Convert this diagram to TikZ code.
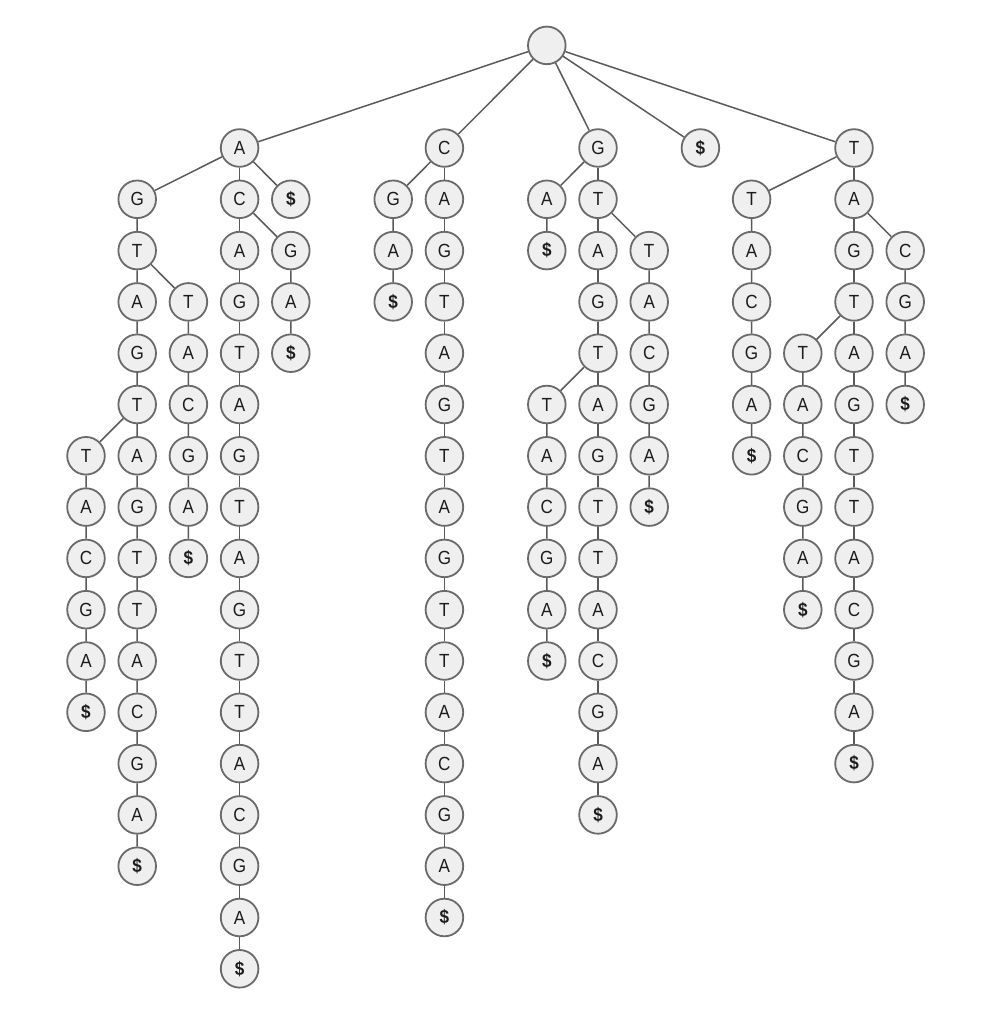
\documentclass[tikz,border=0pt]{standalone}
\usepackage{fontspec}
\newfontfamily\triefont{Liberation Sans}[FakeStretch=0.9]
\definecolor{nodefill}{HTML}{EFEFEF}
\definecolor{nodeline}{HTML}{6A6A6A}
\definecolor{edgeline}{HTML}{5A5A5A}
\definecolor{nodetext}{HTML}{1C1C1C}
\tikzset{
  trie/.style={circle, draw=nodeline, fill=nodefill, line width=1.8pt,
    minimum size=37.6pt, inner sep=0pt, text=nodetext,
    font=\triefont\fontsize{19}{19}\selectfont},
  edge/.style={draw=edgeline, line width=1.5pt}
}
\newcommand{\trieend}{{\bfseries\$}}
\begin{document}
\begin{tikzpicture}[x=51.2pt, y=-51.3pt]
\useasboundingbox (-86pt,45.4pt) rectangle (896pt,-978.6pt);
% root and first letters
\node[trie] (root) at (9,0) {};
\node[trie] (c3r2) at (3,2) {A};
\node[trie] (c7r2) at (7,2) {C};
\node[trie] (c10r2) at (10,2) {G};
\node[trie] (c12r2) at (12,2) {\trieend};
\node[trie] (c15r2) at (15,2) {T};
% branch A
\node[trie] (c1r3) at (1,3) {G};
\node[trie] (c1r4) at (1,4) {T};
\node[trie] (c1r5) at (1,5) {A};
\node[trie] (c1r6) at (1,6) {G};
\node[trie] (c1r7) at (1,7) {T};
\node[trie] (c1r8) at (1,8) {A};
\node[trie] (c1r9) at (1,9) {G};
\node[trie] (c1r10) at (1,10) {T};
\node[trie] (c1r11) at (1,11) {T};
\node[trie] (c1r12) at (1,12) {A};
\node[trie] (c1r13) at (1,13) {C};
\node[trie] (c1r14) at (1,14) {G};
\node[trie] (c1r15) at (1,15) {A};
\node[trie] (c1r16) at (1,16) {\trieend};
\node[trie] (c0r8) at (0,8) {T};
\node[trie] (c0r9) at (0,9) {A};
\node[trie] (c0r10) at (0,10) {C};
\node[trie] (c0r11) at (0,11) {G};
\node[trie] (c0r12) at (0,12) {A};
\node[trie] (c0r13) at (0,13) {\trieend};
\node[trie] (c2r5) at (2,5) {T};
\node[trie] (c2r6) at (2,6) {A};
\node[trie] (c2r7) at (2,7) {C};
\node[trie] (c2r8) at (2,8) {G};
\node[trie] (c2r9) at (2,9) {A};
\node[trie] (c2r10) at (2,10) {\trieend};
\node[trie] (c3r3) at (3,3) {C};
\node[trie] (c3r4) at (3,4) {A};
\node[trie] (c3r5) at (3,5) {G};
\node[trie] (c3r6) at (3,6) {T};
\node[trie] (c3r7) at (3,7) {A};
\node[trie] (c3r8) at (3,8) {G};
\node[trie] (c3r9) at (3,9) {T};
\node[trie] (c3r10) at (3,10) {A};
\node[trie] (c3r11) at (3,11) {G};
\node[trie] (c3r12) at (3,12) {T};
\node[trie] (c3r13) at (3,13) {T};
\node[trie] (c3r14) at (3,14) {A};
\node[trie] (c3r15) at (3,15) {C};
\node[trie] (c3r16) at (3,16) {G};
\node[trie] (c3r17) at (3,17) {A};
\node[trie] (c3r18) at (3,18) {\trieend};
\node[trie] (c4r3) at (4,3) {\trieend};
\node[trie] (c4r4) at (4,4) {G};
\node[trie] (c4r5) at (4,5) {A};
\node[trie] (c4r6) at (4,6) {\trieend};
% branch C
\node[trie] (c6r3) at (6,3) {G};
\node[trie] (c6r4) at (6,4) {A};
\node[trie] (c6r5) at (6,5) {\trieend};
\node[trie] (c7r3) at (7,3) {A};
\node[trie] (c7r4) at (7,4) {G};
\node[trie] (c7r5) at (7,5) {T};
\node[trie] (c7r6) at (7,6) {A};
\node[trie] (c7r7) at (7,7) {G};
\node[trie] (c7r8) at (7,8) {T};
\node[trie] (c7r9) at (7,9) {A};
\node[trie] (c7r10) at (7,10) {G};
\node[trie] (c7r11) at (7,11) {T};
\node[trie] (c7r12) at (7,12) {T};
\node[trie] (c7r13) at (7,13) {A};
\node[trie] (c7r14) at (7,14) {C};
\node[trie] (c7r15) at (7,15) {G};
\node[trie] (c7r16) at (7,16) {A};
\node[trie] (c7r17) at (7,17) {\trieend};
% branch G
\node[trie] (c9r3) at (9,3) {A};
\node[trie] (c9r4) at (9,4) {\trieend};
\node[trie] (c10r3) at (10,3) {T};
\node[trie] (c10r4) at (10,4) {A};
\node[trie] (c10r5) at (10,5) {G};
\node[trie] (c10r6) at (10,6) {T};
\node[trie] (c10r7) at (10,7) {A};
\node[trie] (c10r8) at (10,8) {G};
\node[trie] (c10r9) at (10,9) {T};
\node[trie] (c10r10) at (10,10) {T};
\node[trie] (c10r11) at (10,11) {A};
\node[trie] (c10r12) at (10,12) {C};
\node[trie] (c10r13) at (10,13) {G};
\node[trie] (c10r14) at (10,14) {A};
\node[trie] (c10r15) at (10,15) {\trieend};
\node[trie] (c11r4) at (11,4) {T};
\node[trie] (c11r5) at (11,5) {A};
\node[trie] (c11r6) at (11,6) {C};
\node[trie] (c11r7) at (11,7) {G};
\node[trie] (c11r8) at (11,8) {A};
\node[trie] (c11r9) at (11,9) {\trieend};
\node[trie] (c9r7) at (9,7) {T};
\node[trie] (c9r8) at (9,8) {A};
\node[trie] (c9r9) at (9,9) {C};
\node[trie] (c9r10) at (9,10) {G};
\node[trie] (c9r11) at (9,11) {A};
\node[trie] (c9r12) at (9,12) {\trieend};
% branch T
\node[trie] (c13r3) at (13,3) {T};
\node[trie] (c13r4) at (13,4) {A};
\node[trie] (c13r5) at (13,5) {C};
\node[trie] (c13r6) at (13,6) {G};
\node[trie] (c13r7) at (13,7) {A};
\node[trie] (c13r8) at (13,8) {\trieend};
\node[trie] (c15r3) at (15,3) {A};
\node[trie] (c15r4) at (15,4) {G};
\node[trie] (c15r5) at (15,5) {T};
\node[trie] (c15r6) at (15,6) {A};
\node[trie] (c15r7) at (15,7) {G};
\node[trie] (c15r8) at (15,8) {T};
\node[trie] (c15r9) at (15,9) {T};
\node[trie] (c15r10) at (15,10) {A};
\node[trie] (c15r11) at (15,11) {C};
\node[trie] (c15r12) at (15,12) {G};
\node[trie] (c15r13) at (15,13) {A};
\node[trie] (c15r14) at (15,14) {\trieend};
\node[trie] (c16r4) at (16,4) {C};
\node[trie] (c16r5) at (16,5) {G};
\node[trie] (c16r6) at (16,6) {A};
\node[trie] (c16r7) at (16,7) {\trieend};
\node[trie] (c14r6) at (14,6) {T};
\node[trie] (c14r7) at (14,7) {A};
\node[trie] (c14r8) at (14,8) {C};
\node[trie] (c14r9) at (14,9) {G};
\node[trie] (c14r10) at (14,10) {A};
\node[trie] (c14r11) at (14,11) {\trieend};
% edges
\draw[edge] (root) -- (c3r2);
\draw[edge] (root) -- (c7r2);
\draw[edge] (root) -- (c10r2);
\draw[edge] (root) -- (c12r2);
\draw[edge] (root) -- (c15r2);
\draw[edge] (c3r2) -- (c1r3) -- (c1r4) -- (c1r5) -- (c1r6) -- (c1r7) -- (c1r8) -- (c1r9) -- (c1r10) -- (c1r11) -- (c1r12) -- (c1r13) -- (c1r14) -- (c1r15) -- (c1r16);
\draw[edge] (c1r4) -- (c2r5) -- (c2r6) -- (c2r7) -- (c2r8) -- (c2r9) -- (c2r10);
\draw[edge] (c1r7) -- (c0r8) -- (c0r9) -- (c0r10) -- (c0r11) -- (c0r12) -- (c0r13);
\draw[edge] (c3r2) -- (c3r3) -- (c3r4) -- (c3r5) -- (c3r6) -- (c3r7) -- (c3r8) -- (c3r9) -- (c3r10) -- (c3r11) -- (c3r12) -- (c3r13) -- (c3r14) -- (c3r15) -- (c3r16) -- (c3r17) -- (c3r18);
\draw[edge] (c3r2) -- (c4r3);
\draw[edge] (c3r3) -- (c4r4) -- (c4r5) -- (c4r6);
\draw[edge] (c7r2) -- (c6r3) -- (c6r4) -- (c6r5);
\draw[edge] (c7r2) -- (c7r3) -- (c7r4) -- (c7r5) -- (c7r6) -- (c7r7) -- (c7r8) -- (c7r9) -- (c7r10) -- (c7r11) -- (c7r12) -- (c7r13) -- (c7r14) -- (c7r15) -- (c7r16) -- (c7r17);
\draw[edge] (c10r2) -- (c9r3) -- (c9r4);
\draw[edge] (c10r2) -- (c10r3) -- (c10r4) -- (c10r5) -- (c10r6) -- (c10r7) -- (c10r8) -- (c10r9) -- (c10r10) -- (c10r11) -- (c10r12) -- (c10r13) -- (c10r14) -- (c10r15);
\draw[edge] (c10r3) -- (c11r4) -- (c11r5) -- (c11r6) -- (c11r7) -- (c11r8) -- (c11r9);
\draw[edge] (c10r6) -- (c9r7) -- (c9r8) -- (c9r9) -- (c9r10) -- (c9r11) -- (c9r12);
\draw[edge] (c15r2) -- (c13r3) -- (c13r4) -- (c13r5) -- (c13r6) -- (c13r7) -- (c13r8);
\draw[edge] (c15r2) -- (c15r3) -- (c15r4) -- (c15r5) -- (c15r6) -- (c15r7) -- (c15r8) -- (c15r9) -- (c15r10) -- (c15r11) -- (c15r12) -- (c15r13) -- (c15r14);
\draw[edge] (c15r3) -- (c16r4) -- (c16r5) -- (c16r6) -- (c16r7);
\draw[edge] (c15r5) -- (c14r6) -- (c14r7) -- (c14r8) -- (c14r9) -- (c14r10) -- (c14r11);
\end{tikzpicture}
\end{document}
